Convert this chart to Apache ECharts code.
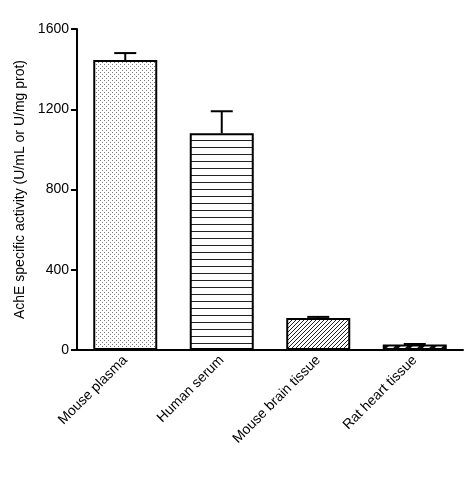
<!DOCTYPE html>
<html><head><meta charset="utf-8">
<script src="https://cdn.jsdelivr.net/npm/echarts@6/dist/echarts.min.js"></script>
<style>html,body{margin:0;padding:0;background:#fff}#c{width:474px;height:486px}</style>
</head><body><div id="c"></div>
<script>
const categories = ['Mouse plasma','Human serum','Mouse brain tissue','Rat heart tissue'];
const means = [1445, 1080, 160, 28];
const upper = [1480, 1190, 165, 30];
const yTicks = [0, 400, 800, 1200, 1600];

function pat(kind){
  const c=document.createElement('canvas');
  const x=c.getContext('2d');
  if(kind==='dots'){c.width=4;c.height=4;x.fillStyle='#fff';x.fillRect(0,0,4,4);x.fillStyle='#777';x.fillRect(0,0,1,1);x.fillRect(2,2,1,1);}
  else if(kind==='hlines'){c.width=4;c.height=6.5;c.width=4;c.height=7;x.fillStyle='#fff';x.fillRect(0,0,4,7);x.fillStyle='#222';x.fillRect(0,0,4,1);}
  else if(kind==='hatch'){c.width=4;c.height=4;x.fillStyle='#fff';x.fillRect(0,0,4,4);x.strokeStyle='#222';x.lineWidth=1;x.beginPath();x.moveTo(-1,5);x.lineTo(5,-1);x.stroke();}
  else {c.width=12;c.height=12;x.fillStyle='#fff';x.fillRect(0,0,12,12);x.strokeStyle='#111';x.lineWidth=4;x.beginPath();x.moveTo(-3,15);x.lineTo(15,-3);x.moveTo(-9,9);x.lineTo(9,-9);x.moveTo(3,21);x.lineTo(21,3);x.stroke();}
  return {image:c,repeat:'repeat'};
}
const pats=[pat('dots'),pat('hlines'),pat('hatch'),pat('thick')];

const chart=echarts.init(document.getElementById('c'));
chart.setOption({
  animation:false,
  grid:{left:77,top:29,right:11,bottom:136},
  xAxis:{type:'category',data:categories,
    axisLine:{lineStyle:{color:'#000',width:2}},
    axisTick:{alignWithLabel:true,length:4,lineStyle:{color:'#000'}},
    axisLabel:{rotate:45,color:'#000',fontSize:14,fontFamily:'Liberation Sans, Arial',margin:8,interval:0}},
  yAxis:{type:'value',min:0,max:1600,interval:400,
    name:'AchE specific activity (U/mL or U/mg prot)',nameLocation:'middle',nameGap:47,
    nameTextStyle:{color:'#000',fontSize:14,fontFamily:'Liberation Sans, Arial'},
    axisLine:{show:true,lineStyle:{color:'#000',width:2}},
    axisTick:{show:true,length:6,lineStyle:{color:'#000',width:2}},
    splitLine:{show:false},
    axisLabel:{color:'#000',fontSize:14,fontFamily:'Liberation Sans, Arial',margin:8,
      formatter:v=>yTicks.includes(v)?String(v):''}},
  series:[
    {type:'bar',barWidth:64,z:3,
     data:means.map((v,i)=>({value:v,itemStyle:{color:pats[i],borderColor:'#000',borderWidth:2}}))},
    {type:'custom',z:2,data:means.map((m,i)=>[i,m,upper[i]]),
     renderItem:(p,api)=>{
       const a=api.coord([api.value(0),api.value(1)]);
       const b=api.coord([api.value(0),api.value(2)]);
       const s={stroke:'#000',lineWidth:2};
       return {type:'group',children:[
         {type:'line',shape:{x1:a[0],y1:a[1],x2:b[0],y2:b[1]},style:s},
         {type:'line',shape:{x1:b[0]-11,y1:b[1],x2:b[0]+11,y2:b[1]},style:s}]};
     }}
  ]
});
</script></body></html>
